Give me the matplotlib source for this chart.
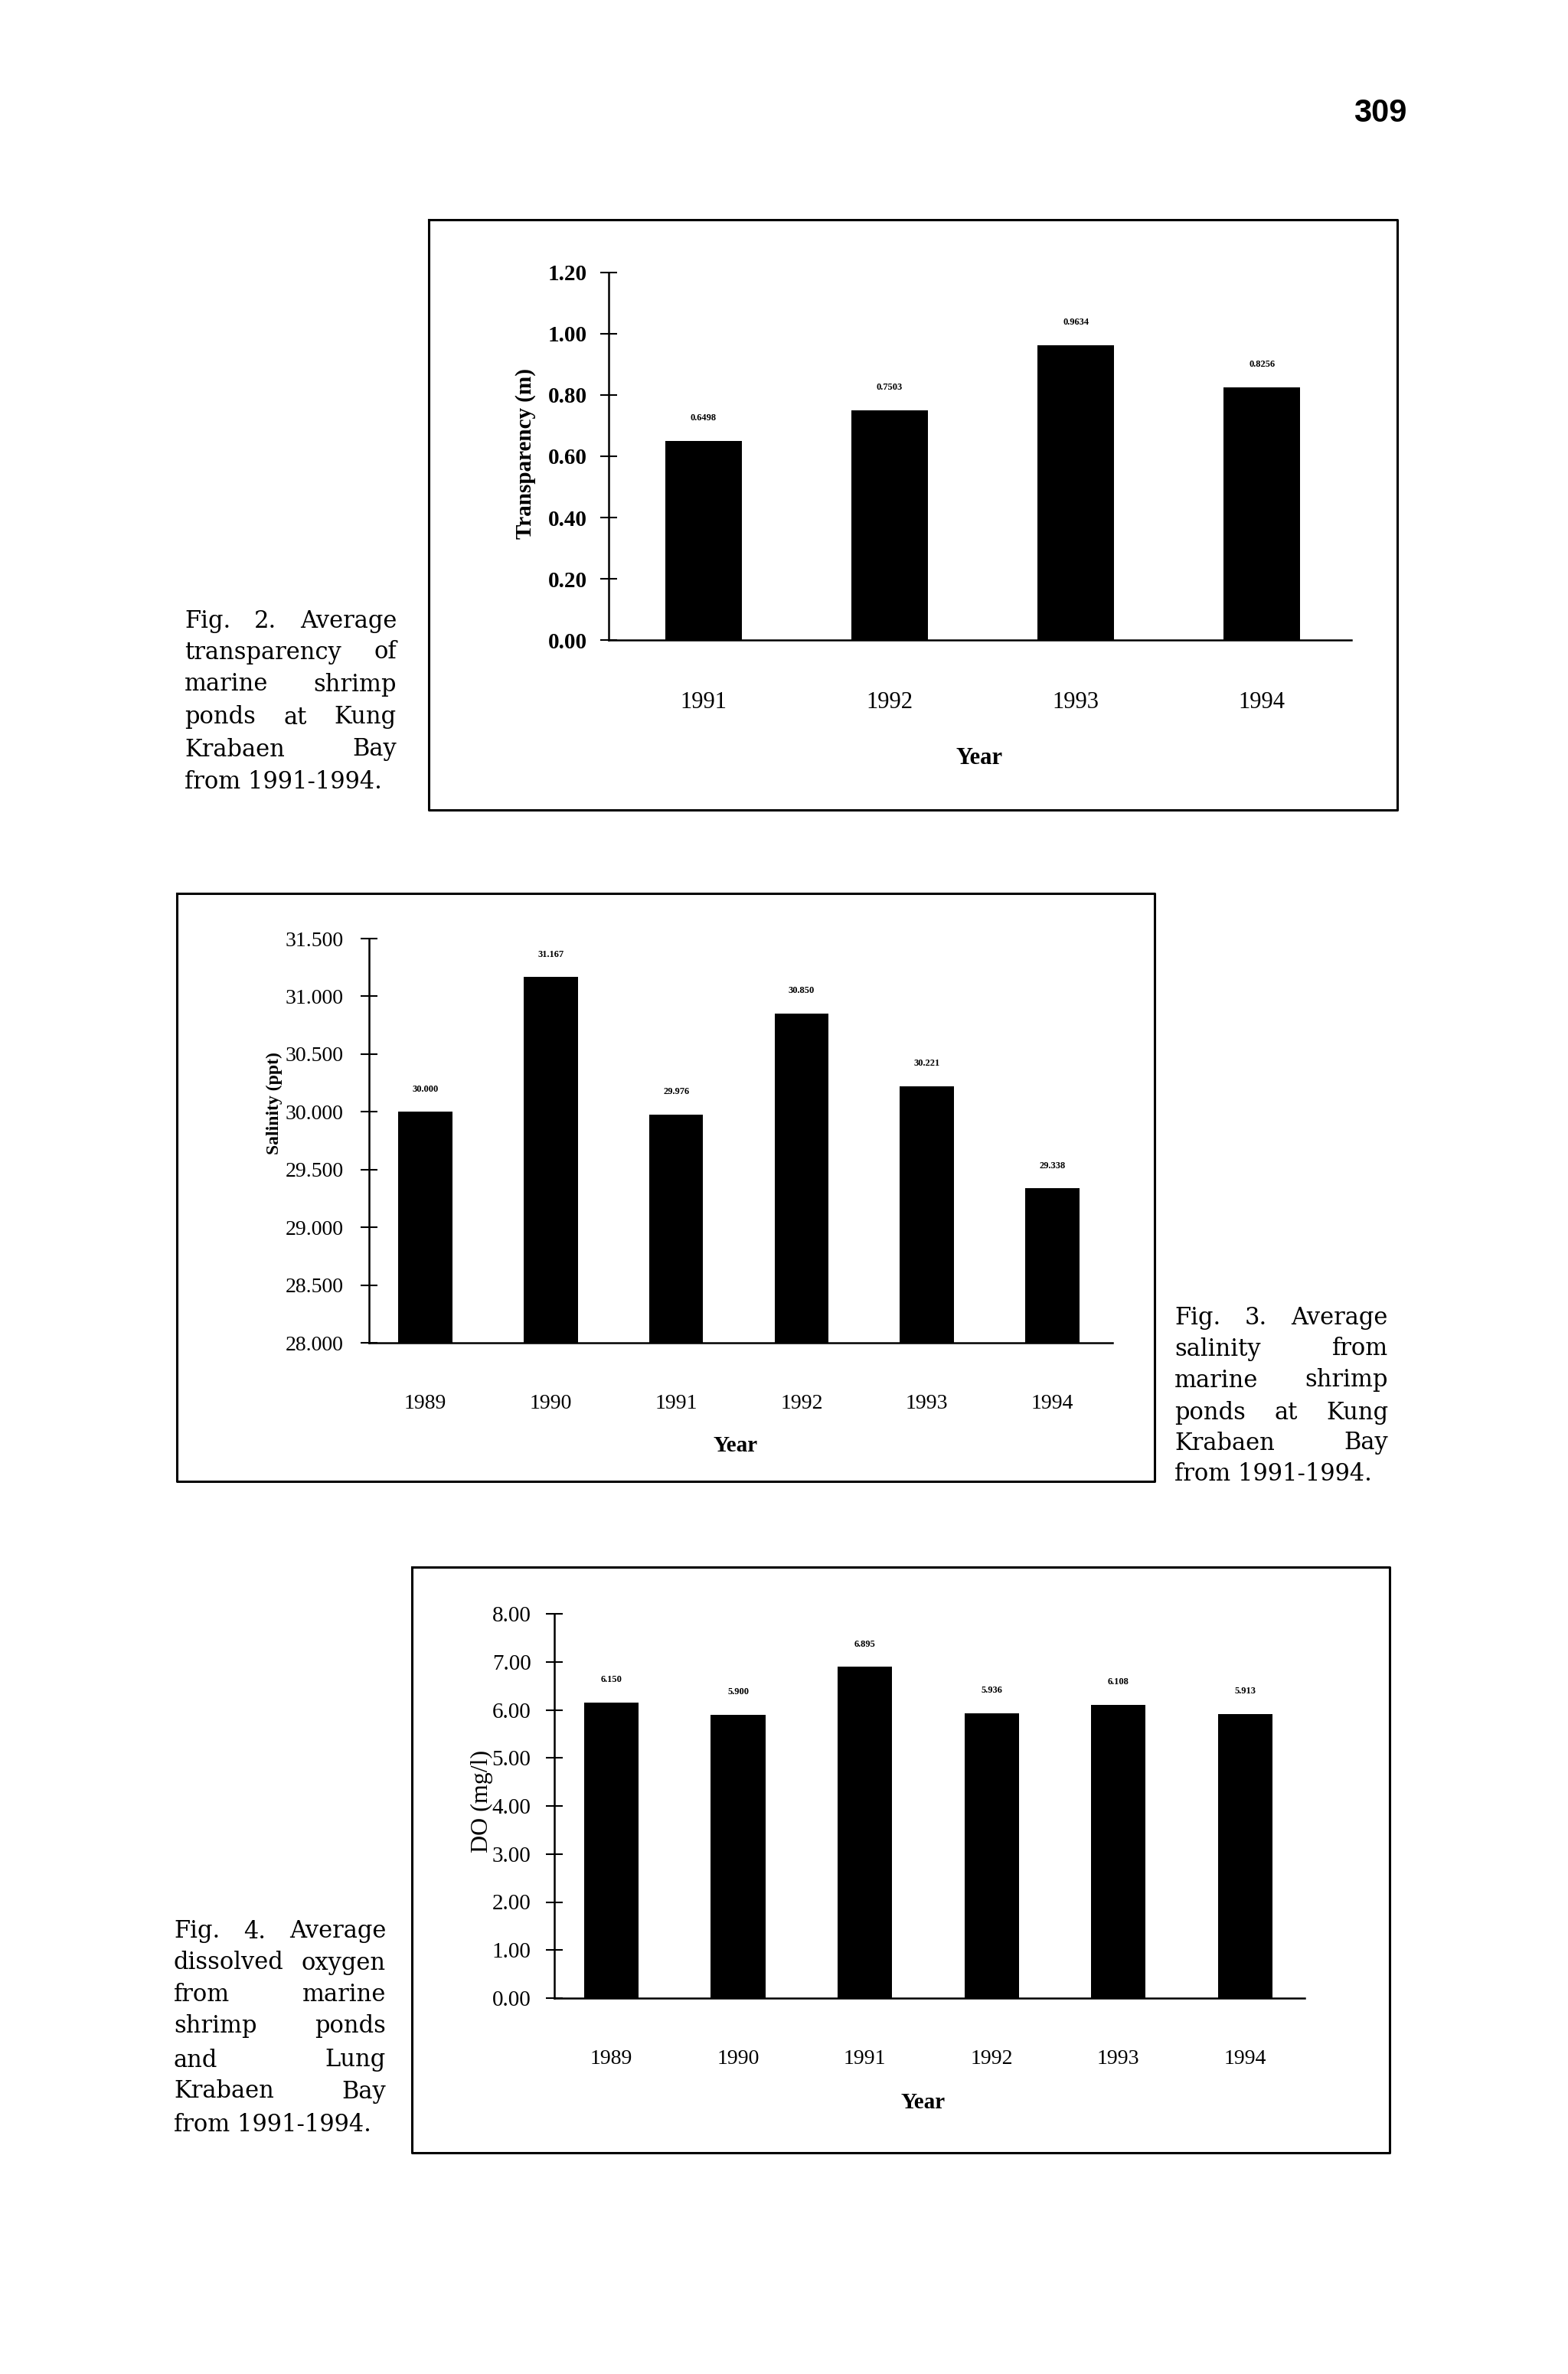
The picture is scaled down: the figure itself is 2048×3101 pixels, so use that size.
import matplotlib
matplotlib.use("Agg")
import matplotlib.pyplot as plt
from matplotlib.lines import Line2D

W, H = 2048, 3101

# Fig. 2 - transparency
years_t = ["1991", "1992", "1993", "1994"]
transparency = [0.6498, 0.7503, 0.9634, 0.8256]
transparency_labels = ["0.6498", "0.7503", "0.9634", "0.8256"]

# Fig. 3 - salinity
years_s = ["1989", "1990", "1991", "1992", "1993", "1994"]
salinity = [30.000, 31.167, 29.976, 30.850, 30.221, 29.338]
salinity_labels = ["30.000", "31.167", "29.976", "30.850", "30.221", "29.338"]

# Fig. 4 - dissolved oxygen
years_do = ["1989", "1990", "1991", "1992", "1993", "1994"]
oxygen = [6.150, 5.900, 6.895, 5.936, 6.108, 5.913]
oxygen_labels = ["6.150", "5.900", "6.895", "5.936", "6.108", "5.913"]

serif = ["Liberation Serif", "DejaVu Serif"]
cap_font = ["DejaVu Serif"]

fig = plt.figure(figsize=(W / 100, H / 100), dpi=100)
fig.patch.set_facecolor("white")


def fx(x):
    return x / W


def fy(y):
    return 1 - y / H


def px_axes(x0, ytop, x1, ybot):
    return fig.add_axes([fx(x0), fy(ybot), (x1 - x0) / W, (ybot - ytop) / H])


def box(x0, y0, x1, y1, lw=2.2):
    xs = [x0, x1, x1, x0, x0]
    ys = [y0, y0, y1, y1, y0]
    fig.add_artist(Line2D([fx(v) for v in xs], [fy(v) for v in ys],
                          transform=fig.transFigure, color="black", lw=lw))


def bar_chart(ax, cats, vals, labels, ylim, yticks, fmt, xlim, width,
              tick_size, tick_weight, xtick_size, ypad):
    x = list(range(len(cats)))
    ax.bar(x, vals, width=width, color="black")
    ax.set_xlim(*xlim)
    ax.set_ylim(*ylim)
    ax.set_yticks(yticks)
    ax.set_yticklabels([fmt.format(v) for v in yticks], fontsize=tick_size,
                       fontweight=tick_weight, family=serif)
    ax.set_xticks(x)
    ax.set_xticklabels(cats, fontsize=xtick_size, family=serif)
    ax.tick_params(axis="x", length=0, pad=48)
    ax.tick_params(axis="y", direction="inout", length=16, width=1.5, pad=ypad)
    for s in ["top", "right"]:
        ax.spines[s].set_visible(False)
    ax.spines["left"].set_linewidth(1.8)
    ax.spines["bottom"].set_linewidth(1.8)
    for xi, v, lab in zip(x, vals, labels):
        ax.annotate(lab, (xi, v), xytext=(0, 17), textcoords="offset points",
                    ha="center", va="bottom", fontsize=9, fontweight="bold",
                    family=serif)


def caption(lines, x0, x1, ys, size):
    renderer = fig.canvas.get_renderer()
    for i, (line, y) in enumerate(zip(lines, ys)):
        words = line.split()
        if i == len(lines) - 1 or len(words) == 1:
            fig.text(fx(x0), fy(y), line, fontsize=size, family=cap_font,
                     ha="left", va="center")
            continue
        texts = [fig.text(0, 0, w, fontsize=size, family=cap_font,
                          ha="left", va="center") for w in words]
        widths = [t.get_window_extent(renderer).width for t in texts]
        gap = (x1 - x0 - sum(widths)) / (len(words) - 1)
        xpos = x0
        for t, w in zip(texts, widths):
            t.set_position((fx(xpos), fy(y)))
            xpos += w + gap


# page number
fig.text(fx(1803), fy(148), "309", fontsize=30, fontweight="bold",
         family=["Liberation Sans", "DejaVu Sans"], ha="center", va="center")

# ---- Fig. 2 ----
box(560, 287, 1825, 1058)
ax1 = px_axes(795, 356, 1765, 836)
bar_chart(ax1, years_t, transparency, transparency_labels, (0, 1.2),
          [0, 0.2, 0.4, 0.6, 0.8, 1.0, 1.2], "{:.2f}", (-0.51, 3.48), 0.41,
          21, "bold", 22, 12)
fig.text(fx(686), fy(593), "Transparency (m)", rotation=90, fontsize=21,
         fontweight="bold", family=serif, ha="center", va="center")
fig.text(fx(1279), fy(991), "Year", fontsize=22, fontweight="bold",
         family=serif, ha="center", va="center")
caption(["Fig. 2. Average", "transparency of", "marine shrimp", "ponds at Kung",
         "Krabaen Bay", "from 1991-1994."],
        241, 518, [811, 852, 894, 937, 979, 1022], 22)

# ---- Fig. 3 ----
box(231, 1167, 1508, 1935)
ax2 = px_axes(482, 1226, 1453, 1754)
bar_chart(ax2, years_s, salinity, salinity_labels, (28, 31.5),
          [28, 28.5, 29, 29.5, 30, 30.5, 31, 31.5], "{:.3f}", (-0.45, 5.48), 0.43,
          20, "normal", 20, 16)
fig.text(fx(358), fy(1441), "Salinity (ppt)", rotation=90, fontsize=17,
         fontweight="bold", family=serif, ha="center", va="center")
fig.text(fx(961), fy(1888), "Year", fontsize=21, fontweight="bold",
         family=serif, ha="center", va="center")
caption(["Fig. 3. Average", "salinity from", "marine shrimp", "ponds at Kung",
         "Krabaen Bay", "from 1991-1994."],
        1534, 1813, [1722, 1762, 1803, 1845, 1885, 1926], 22)

# ---- Fig. 4 ----
box(538, 2047, 1815, 2812)
ax3 = px_axes(724, 2108, 1704, 2610)
bar_chart(ax3, years_do, oxygen, oxygen_labels, (0, 8),
          [0, 1, 2, 3, 4, 5, 6, 7, 8], "{:.2f}", (-0.45, 5.47), 0.43,
          21, "normal", 20, 14)
fig.text(fx(629), fy(2353), "DO (mg/l)", rotation=90, fontsize=23,
         family=serif, ha="center", va="center")
fig.text(fx(1206), fy(2747), "Year", fontsize=21, fontweight="bold",
         family=serif, ha="center", va="center")
caption(["Fig. 4. Average", "dissolved oxygen", "from marine", "shrimp ponds",
         "and Lung", "Krabaen Bay", "from 1991-1994."],
        227, 504, [2523, 2564, 2606, 2647, 2691, 2732, 2776], 22)

fig.savefig("out.png", dpi=100, facecolor="white")
